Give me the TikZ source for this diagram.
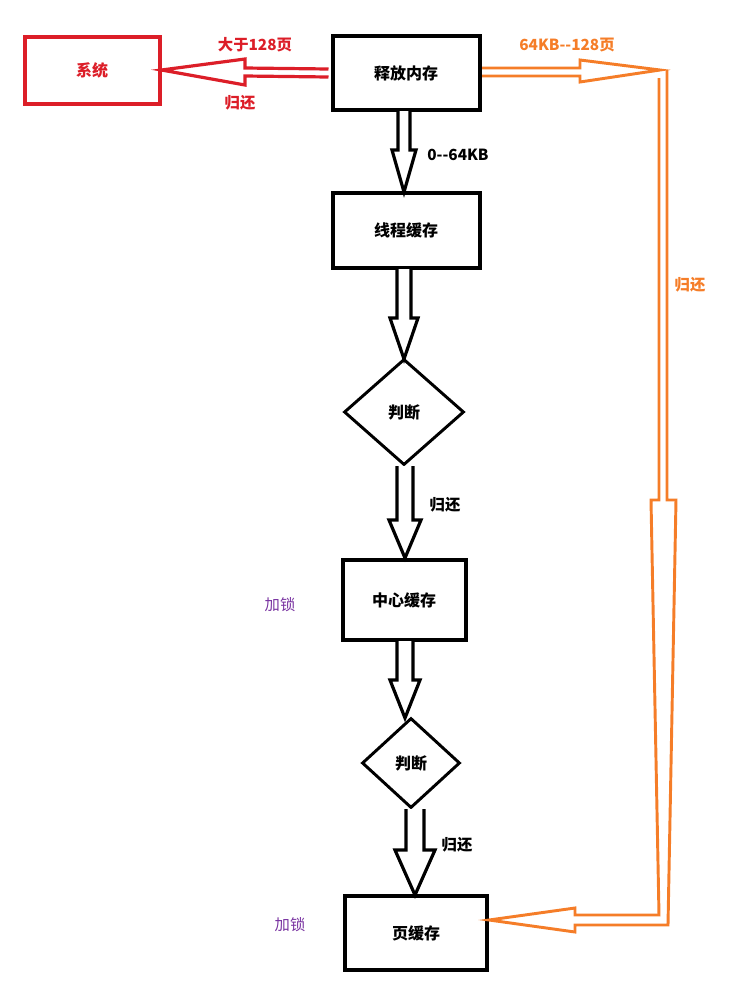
\documentclass[tikz,border=0pt]{standalone}
\usepackage{fontspec}
\newfontfamily\cjk{Noto Sans CJK SC}
\usetikzlibrary{shapes.geometric,calc}
\definecolor{myred}{RGB}{220,30,40}
\definecolor{myorange}{RGB}{245,125,40}
\definecolor{mypurple}{RGB}{120,50,160}
\tikzset{
 box/.style={draw, line width=3pt, minimum width=#1, inner sep=0pt, font=\cjk\fontsize{12}{14}\selectfont\bfseries},
 dia/.style={draw, diamond, line width=2.2pt, inner sep=0pt, font=\cjk\fontsize{12}{14}\selectfont\bfseries},
 lbl/.style={font=\cjk\fontsize{11.5}{14}\selectfont\bfseries},
 blk/.style={draw, line width=2.4pt, fill=white, line join=miter},
}
% down block arrow: x, ytop, ybottom, shaft half, head start, head half
\newcommand{\dnarr}[6]{\draw[blk] (#1-#4,#2) -- (#1-#4,#5) -- (#1-#6,#5) -- (#1,#3) -- (#1+#6,#5) -- (#1+#4,#5) -- (#1+#4,#2);}
\begin{document}
\begin{tikzpicture}[x=0.75pt,y=-0.75pt]
\useasboundingbox (0,0) rectangle (734,997);
\node[box=135pt*0.75, minimum height=67*0.75pt, draw=myred, text=myred] (sys) at (92,70) {系统};
\node[box=147*0.75pt, minimum height=74*0.75pt] (free) at (406,73) {释放内存};
\node[box=147*0.75pt, minimum height=75*0.75pt] (tc) at (406,230) {线程缓存};
\node[dia, minimum width=120*0.75pt, minimum height=106*0.75pt] (j1) at (404,412) {判断};
\node[box=123*0.75pt, minimum height=80*0.75pt] (cc) at (404,600) {中心缓存};
\node[dia, minimum width=98*0.75pt, minimum height=90*0.75pt] (j2) at (411,763) {判断};
\node[box=142*0.75pt, minimum height=74*0.75pt] (pc) at (416,933) {页缓存};

% red arrow
\draw[blk, draw=myred] ($(free.west)+(-2,-4)$) -- (245,68) -- (245,59) -- (sys.east) -- (245,85) -- (245,76) -- ($(free.west)+(-2,4)$);
% black arrows
\dnarr{404}{111}{192}{6}{150}{12}
\dnarr{404}{269}{359}{7}{318}{14}
\dnarr{405}{466}{558}{8}{520}{16}
\dnarr{405}{641}{718}{8}{680}{15}
\dnarr{415}{809}{895}{9}{850}{20}
% orange path
\draw[blk, draw=myorange, line width=2.2pt] (482,68) -- (580,68) -- (580,60) -- (660,70) -- (580,82) -- (580,76) -- (482,76);
\draw[draw=myorange, line width=2.2pt, line join=miter] (659,78) -- (659,500) -- (651,500) -- (659,915) -- (575,915) -- (575,908) -- (489,920) -- (575,932) -- (575,925) -- (668,925) -- (676,500) -- (667,500) -- (667,70);

\node[lbl, text=myred] at (255,45) {大于128页};
\node[lbl, text=myred] at (240,103) {归还};
\node[lbl, text=myorange] at (567,45) {64KB--128页};
\node[lbl, text=myorange] at (690,285) {归还};
\node[lbl] at (458,155) {0--64KB};
\node[lbl] at (445,505) {归还};
\node[lbl] at (457,845) {归还};
\node[lbl, text=mypurple, font=\cjk\fontsize{11.5}{14}\selectfont] at (280,605) {加锁};
\node[lbl, text=mypurple, font=\cjk\fontsize{11.5}{14}\selectfont] at (290,925) {加锁};
\end{tikzpicture}
\end{document}
